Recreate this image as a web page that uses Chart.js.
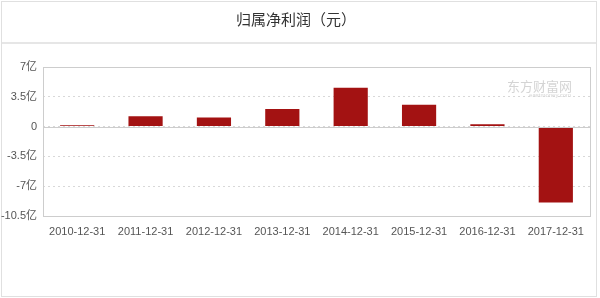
<!DOCTYPE html>
<html>
<head>
<meta charset="utf-8">
<script src="https://cdn.jsdelivr.net/npm/chart.js@4.4.0/dist/chart.umd.min.js"></script>
<style>
  html, body { margin: 0; padding: 0; background: #fff; }
  #wrap { position: relative; width: 600px; height: 298px; }
</style>
</head>
<body>
<div id="wrap"><canvas id="chart" width="600" height="298"></canvas></div>
<script>
// 归属净利润, unit: 亿元
var chartTitle = '归属净利润（元）';
var categories = ['2010-12-31', '2011-12-31', '2012-12-31', '2013-12-31', '2014-12-31', '2015-12-31', '2016-12-31', '2017-12-31'];
var profitValues = [0.15, 1.21, 1.06, 2.08, 4.55, 2.58, 0.27, -8.9];
var yTicks = [7, 3.5, 0, -3.5, -7, -10.5];

var barColor = '#a31212';

function tickLabel(v) {
    return v === 0 ? '0' : v + '亿';
}

// frame, title, zero line and the faint watermark
var decorPlugin = {
    id: 'decor',
    beforeDraw: function(chart) {
        var ctx = chart.ctx;
        ctx.save();
        ctx.fillStyle = '#fff';
        ctx.fillRect(0, 0, chart.width, chart.height);
        ctx.strokeStyle = '#e0e0e0';
        ctx.lineWidth = 1;
        ctx.strokeRect(1.5, 1.5, chart.width - 5, chart.height - 3);
        ctx.strokeStyle = '#e6e6e6';
        ctx.lineWidth = 2;
        ctx.beginPath();
        ctx.moveTo(2, 43);
        ctx.lineTo(chart.width - 4, 43);
        ctx.stroke();
        ctx.fillStyle = '#333';
        ctx.font = '15px "Noto Sans CJK SC", sans-serif';
        ctx.textAlign = 'center';
        ctx.textBaseline = 'middle';
        ctx.fillText(chartTitle, 296, 19);

        // watermark
        var a = chart.chartArea;
        ctx.fillStyle = 'rgba(170,170,170,0.5)';
        ctx.font = '13px "Noto Sans CJK SC", sans-serif';
        ctx.textAlign = 'right';
        ctx.fillText('东方财富网', a.right - 18, 86);
        ctx.font = '6px "Liberation Sans", sans-serif';
        ctx.fillText('eastmoney.com', a.right - 19, 95);
        ctx.restore();
    },
    afterDatasetsDraw: function(chart) {
        var ctx = chart.ctx;
        var a = chart.chartArea;
        var y0 = Math.round(chart.scales.y.getPixelForValue(0)) + 0.5;
        ctx.save();
        ctx.strokeStyle = '#cdcdcd';
        ctx.lineWidth = 1;
        ctx.strokeRect(Math.round(a.left) + 0.5, Math.round(a.top) + 0.5, Math.round(a.right - a.left), Math.round(a.bottom - a.top));
        ctx.beginPath();
        ctx.moveTo(a.left, y0);
        ctx.lineTo(a.right, y0);
        ctx.stroke();
        ctx.restore();
    }
};

new Chart(document.getElementById('chart').getContext('2d'), {
    type: 'bar',
    data: {
        labels: categories,
        datasets: [{
            label: '归属净利润',
            data: profitValues,
            backgroundColor: barColor,
            borderWidth: 0,
            barPercentage: 0.5,
            categoryPercentage: 1.0
        }]
    },
    options: {
        responsive: false,
        animation: false,
        layout: { padding: { top: 67, right: 10, left: 0, bottom: 0 } },
        plugins: {
            legend: { display: false },
            title: { display: false },
            tooltip: { enabled: false }
        },
        scales: {
            x: {
                grid: { display: false, drawTicks: false },
                border: { display: false },
                ticks: {
                    color: '#555',
                    font: { size: 11, family: '"Liberation Sans", Arial, sans-serif' },
                    padding: 9,
                    maxRotation: 0,
                    autoSkip: false
                },
                afterFit: function(scale) { scale.height = 82; }
            },
            y: {
                min: -10.5,
                max: 7,
                afterBuildTicks: function(scale) {
                    scale.ticks = yTicks.map(function(v) { return { value: v }; });
                },
                grid: {
                    color: '#d8d8d8',
                    drawTicks: false
                },
                border: { display: false, dash: [2, 3] },
                ticks: {
                    color: '#555',
                    font: { size: 11, family: '"Liberation Sans", Arial, "Noto Sans CJK SC", sans-serif' },
                    padding: 6,
                    callback: function(v) { return tickLabel(v); }
                },
                afterFit: function(scale) { scale.width = 43; }
            }
        }
    },
    plugins: [decorPlugin]
});
</script>
</body>
</html>
